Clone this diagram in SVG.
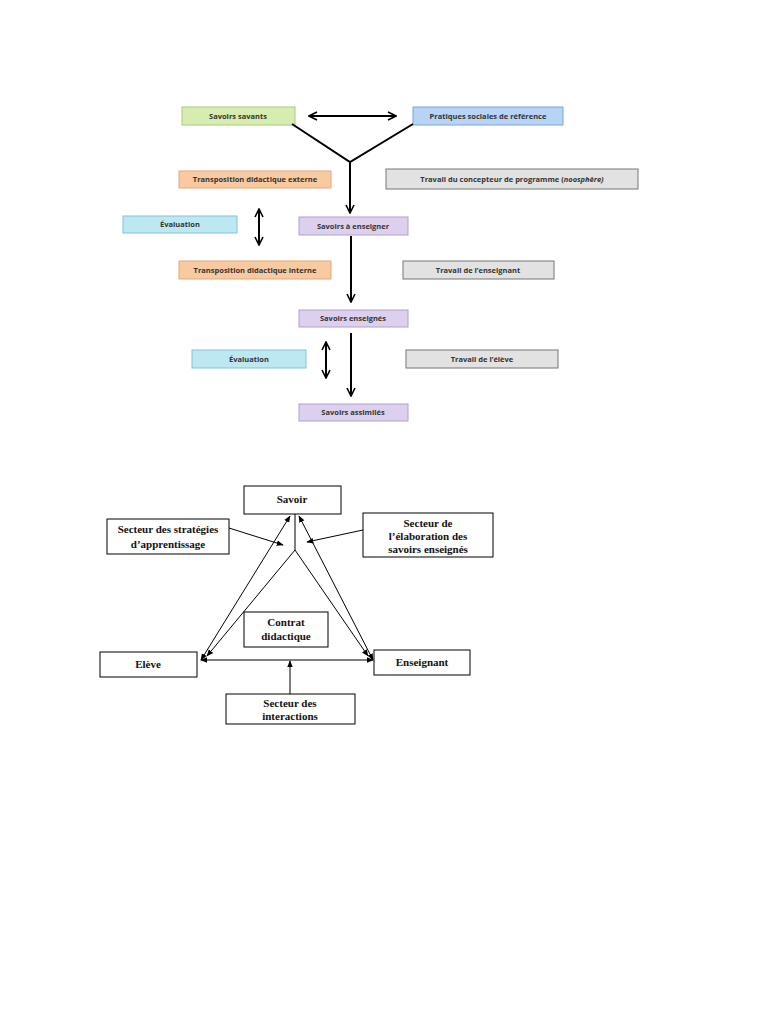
<svg xmlns="http://www.w3.org/2000/svg" width="768" height="1024" viewBox="0 0 768 1024">
<style>
.b{stroke-width:1;}
.t{font-family:"Open Sans","DejaVu Sans",sans-serif;font-size:7.5px;font-weight:bold;fill:#333;text-anchor:middle}
.s{font-family:"Liberation Serif",serif;font-size:11px;font-weight:bold;fill:#111;text-anchor:middle}
.k{fill:none;stroke:#000;stroke-width:2}
.k1{fill:none;stroke:#000;stroke-width:1}
.w{fill:#fff;stroke:#000;stroke-width:1}
</style>
<defs>
<marker id="a" viewBox="0 0 10 10" refX="9" refY="5" markerWidth="5" markerHeight="5" orient="auto-start-reverse"><path d="M1,1 L9,5 L1,9" fill="none" stroke="#000" stroke-width="1.6"/></marker>
<marker id="f" viewBox="0 0 10 10" refX="9" refY="5" markerWidth="7" markerHeight="7" orient="auto-start-reverse"><path d="M0,1 L10,5 L0,9 z" fill="#000"/></marker>
</defs>
<rect width="768" height="1024" fill="#fff"/>
<g id="savants"><rect x="182" y="107" width="113" height="18" fill="#d7edb0" stroke="#a9c97a"/><text class="t" x="238" y="119">Savoirs savants</text></g>
<g id="pratiques"><rect x="413" y="107" width="150" height="18" fill="#b7d3f5" stroke="#7ea4d6"/><text class="t" x="488" y="119">Pratiques sociales de référence</text></g>
<g id="tde"><rect x="179" y="171" width="152" height="17" fill="#f9c9a0" stroke="#e3a878"/><text class="t" x="255" y="182">Transposition didactique externe</text></g>
<g id="tcp"><rect x="386" y="169" width="252" height="20" fill="#e2e2e2" stroke="#777"/><text class="t" x="512" y="182">Travail du concepteur de programme (<tspan font-style="italic">noosphère)</tspan></text></g>
<g id="eval1"><rect x="123" y="216" width="114" height="17" fill="#bde8f2" stroke="#80c4d8"/><text class="t" x="180" y="227">Évaluation</text></g>
<g id="sae"><rect x="299" y="217" width="109" height="18" fill="#ddd0ee" stroke="#b0a0cc"/><text class="t" x="353" y="229">Savoirs à enseigner</text></g>
<g id="tdi"><rect x="179" y="261" width="152" height="18" fill="#f9c9a0" stroke="#e3a878"/><text class="t" x="255" y="273">Transposition didactique interne</text></g>
<g id="te"><rect x="403" y="261" width="151" height="18" fill="#e2e2e2" stroke="#777"/><text class="t" x="478" y="273">Travail de l’enseignant</text></g>
<g id="se"><rect x="299" y="310" width="109" height="17" fill="#ddd0ee" stroke="#b0a0cc"/><text class="t" x="353" y="321">Savoirs enseignés</text></g>
<g id="eval2"><rect x="192" y="350" width="114" height="18" fill="#bde8f2" stroke="#80c4d8"/><text class="t" x="249" y="362">Évaluation</text></g>
<g id="tel"><rect x="406" y="350" width="152" height="18" fill="#e2e2e2" stroke="#777"/><text class="t" x="482" y="362">Travail de l’élève</text></g>
<g id="sa"><rect x="299" y="404" width="109" height="17" fill="#ddd0ee" stroke="#b0a0cc"/><text class="t" x="353" y="415">Savoirs assimilés</text></g>

<g id="savoir"><rect class="w" x="244" y="486" width="97" height="28"/><text class="s" x="292" y="503">Savoir</text></g>
<g id="strat"><rect class="w" x="107" y="519" width="122" height="35"/><text class="s" x="168" y="533">Secteur des stratégies</text><text class="s" x="168" y="548">d’apprentissage</text></g>
<g id="elab"><rect class="w" x="363" y="513" width="130" height="44"/><text class="s" x="428" y="527">Secteur de</text><text class="s" x="428" y="540">l’élaboration des</text><text class="s" x="428" y="553">savoirs enseignés</text></g>
<g id="contrat"><rect class="w" x="244" y="612" width="84" height="35"/><text class="s" x="286" y="626">Contrat</text><text class="s" x="286" y="640">didactique</text></g>
<g id="eleve"><rect class="w" x="100" y="652" width="97" height="25"/><text class="s" x="148" y="668">Elève</text></g>
<g id="ens"><rect class="w" x="374" y="650" width="96" height="25"/><text class="s" x="422" y="666">Enseignant</text></g>
<g id="inter"><rect class="w" x="226" y="694" width="129" height="30"/><text class="s" x="290" y="707">Secteur des</text><text class="s" x="290" y="720">interactions</text></g>

<g id="connectors">
<line class="k" x1="309" y1="116" x2="396" y2="116" marker-start="url(#a)" marker-end="url(#a)"/>
<polyline class="k" points="292,124 350,162 413,124"/>
<line class="k" x1="350" y1="162" x2="350" y2="213" marker-end="url(#a)"/>
<line class="k" x1="259" y1="209" x2="259" y2="245" marker-start="url(#a)" marker-end="url(#a)"/>
<line class="k" x1="351" y1="236" x2="351" y2="302" marker-end="url(#a)"/>
<line class="k" x1="326" y1="342" x2="326" y2="378" marker-start="url(#a)" marker-end="url(#a)"/>
<line class="k" x1="351" y1="333" x2="351" y2="396" marker-end="url(#a)"/>

<line class="k1" x1="290" y1="516" x2="201" y2="660" marker-start="url(#f)" marker-end="url(#f)"/>
<line class="k1" x1="299" y1="516" x2="373" y2="660" marker-start="url(#f)" marker-end="url(#f)"/>
<polyline class="k1" points="295,514 295,550"/>
<line class="k1" x1="295" y1="550" x2="207" y2="656" marker-end="url(#f)"/>
<line class="k1" x1="295" y1="550" x2="368" y2="656" marker-end="url(#f)"/>
<line class="k1" x1="201" y1="660" x2="373" y2="660" marker-start="url(#f)" marker-end="url(#f)"/>
<line class="k1" x1="290" y1="694" x2="290" y2="661" marker-end="url(#f)"/>
<line class="k1" x1="229" y1="528" x2="283" y2="545" marker-end="url(#f)"/>
<line class="k1" x1="363" y1="530" x2="307" y2="542" marker-end="url(#f)"/>
</g>
</svg>
